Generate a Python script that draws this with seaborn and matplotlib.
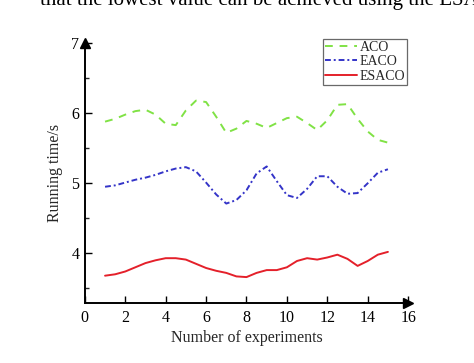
import numpy as np
import pandas as pd
import matplotlib
matplotlib.use("Agg")
import matplotlib.pyplot as plt
import seaborn as sns

# Experiment index (read at half steps from the smooth curves)
x_vals = [1, 1.5, 2, 2.5, 3, 3.5, 4, 4.5, 5, 5.5, 6, 6.5, 7, 7.5, 8,
          8.5, 9, 9.5, 10, 10.5, 11, 11.5, 12, 12.5, 13, 13.5, 14, 14.5, 15]

aco = [5.88, 5.92, 5.98, 6.03, 6.05, 5.98, 5.85, 5.83, 6.04, 6.18, 6.16, 5.95, 5.72, 5.78, 5.89,
       5.85, 5.79, 5.86, 5.93, 5.95, 5.86, 5.76, 5.90, 6.12, 6.13, 5.92, 5.74, 5.62, 5.58]
eaco = [4.95, 4.97, 5.01, 5.05, 5.08, 5.12, 5.17, 5.21, 5.23, 5.17, 5.01, 4.84, 4.71, 4.76, 4.90,
        5.14, 5.24, 5.03, 4.83, 4.79, 4.92, 5.10, 5.10, 4.95, 4.85, 4.86, 5.00, 5.15, 5.20]
esaco = [3.68, 3.70, 3.74, 3.80, 3.86, 3.90, 3.93, 3.93, 3.91, 3.85, 3.79, 3.75, 3.72, 3.67, 3.66,
         3.72, 3.76, 3.76, 3.80, 3.89, 3.93, 3.91, 3.94, 3.98, 3.92, 3.82, 3.89, 3.98, 4.02]

series_names = ["ACO", "EACO", "ESACO"]
x_ticks = [0, 2, 4, 6, 8, 10, 12, 14, 16]
y_ticks = [4, 5, 6, 7]

df = pd.DataFrame({
    "x": x_vals * 3,
    "y": aco + eaco + esaco,
    "series": [n for n in series_names for _ in x_vals],
})

sns.set_style("ticks")
plt.rcParams["font.family"] = ["Liberation Serif", "DejaVu Serif"]

fig = plt.figure(figsize=(4.74, 3.63), dpi=100)
ax = fig.add_axes([0.179, 0.1645, 0.682, 0.7165])

palette = {"ACO": "#80E245", "EACO": "#3434C8", "ESACO": "#E4202A"}
dashes = {"ACO": (4, 3.5), "EACO": (3, 1.5, 1, 1.5), "ESACO": ""}

sns.lineplot(data=df, x="x", y="y", hue="series", style="series",
             palette=palette, dashes=dashes, linewidth=1.4, ax=ax,
             hue_order=series_names, style_order=series_names)

ax.set_xlim(0, 16)
ax.set_ylim(3.286, 7)
ax.set_xticks(x_ticks)
ax.set_yticks(y_ticks)
ax.set_yticks([3.5, 4.5, 5.5, 6.5], minor=True)
ax.tick_params(axis="both", which="major", direction="in", length=5, width=1,
               labelsize=11.5, color="black", labelcolor="black")
ax.tick_params(axis="y", which="minor", direction="in", length=3, width=1)
ax.tick_params(axis="x", pad=5)
ax.tick_params(axis="y", pad=4)

for s in ["top", "right"]:
    ax.spines[s].set_visible(False)
for s in ["left", "bottom"]:
    ax.spines[s].set_linewidth(1.4)
    ax.spines[s].set_color("black")

# axis arrows
ax.plot(1, 0, marker=">", color="black", markersize=7.5, transform=ax.transAxes, clip_on=False)
ax.plot(0, 1, marker="^", color="black", markersize=7.5, transform=ax.transAxes, clip_on=False)

ax.set_xlabel("Number of experiments", fontsize=11.5, labelpad=3)
ax.set_ylabel("Running time/s", fontsize=11.5, labelpad=6)

handles, labels = ax.get_legend_handles_labels()
leg = ax.legend(handles, labels, loc="upper right", bbox_to_anchor=(0.997, 1.017),
                fontsize=10, frameon=True, fancybox=False, edgecolor="#444444",
                handlelength=2.3, handletextpad=0.15, borderpad=0.15,
                labelspacing=0.1, borderaxespad=0.0)
leg.get_frame().set_linewidth(0.9)

fig.text(40 / 474, 1 - 5 / 363, "that the lowest value can be achieved using the ESACO",
         fontsize=15, va="baseline", ha="left", color="black")

fig.savefig("out.png", dpi=100)
